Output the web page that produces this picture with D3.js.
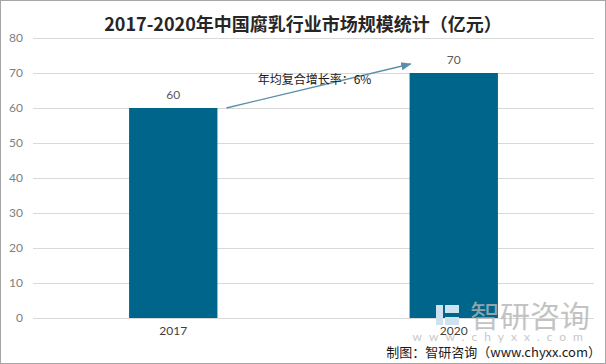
<!DOCTYPE html>
<html>
<head>
<meta charset="utf-8">
<script src="https://cdn.jsdelivr.net/npm/d3@7"></script>
<style>
  body { margin: 0; background: #fff; }
  svg text { font-family: Lato, "Noto Sans CJK SC", sans-serif; }
</style>
</head>
<body>
<div id="chart-area"></div>
<script>
// data
var years = ["2017", "2020"];
var values = [60, 70];
var yTicks = [0, 10, 20, 30, 40, 50, 60, 70, 80];
var title = "2017-2020年中国腐乳行业市场规模统计（亿元）";
var note = "年均复合增长率：6%";
var source = "制图：智研咨询（www.chyxx.com）";

var W = 606, H = 364;
var margin = { left: 33, right: 12, top: 38, bottom: 46 };
var width = W - margin.left - margin.right;
var height = H - margin.top - margin.bottom;

var svg = d3.select("#chart-area").append("svg")
  .attr("width", W)
  .attr("height", H);

// outer border
svg.append("rect")
  .attr("x", 0.5).attr("y", 0.5)
  .attr("width", W - 1).attr("height", H - 1)
  .attr("fill", "#fff")
  .attr("stroke", "#a6a6a6");

// title
svg.append("text")
  .attr("x", W / 2)
  .attr("y", 31)
  .attr("text-anchor", "middle")
  .attr("font-size", "18px")
  .attr("font-weight", "bold")
  .attr("fill", "#262626")
  .style("font-family", "'Noto Sans CJK SC', sans-serif")
  .text(title);

var g = svg.append("g")
  .attr("transform", "translate(" + margin.left + "," + margin.top + ")");

// scales
var x = d3.scaleBand()
  .domain(years)
  .range([0, width])
  .paddingInner(0.685)
  .paddingOuter(0.3425);

var y = d3.scaleLinear()
  .domain([0, 80])
  .range([height, 0]);

// Y axis + grid
var yAxis = g.append("g")
  .call(d3.axisLeft(y).tickValues(yTicks).tickSize(-width).tickPadding(10));
yAxis.select(".domain").remove();
yAxis.selectAll(".tick line").attr("stroke", "#d9d9d9");
yAxis.selectAll(".tick text")
  .attr("fill", "#808080")
  .attr("font-size", "12px");

// watermark
var wm = svg.append("g");
wm.append("rect").attr("x", 436).attr("y", 305).attr("width", 7).attr("height", 20).attr("fill", "#cfe2f0");
wm.append("rect").attr("x", 445).attr("y", 305).attr("width", 14).attr("height", 8).attr("fill", "#cfe2f0");
wm.append("rect").attr("x", 445).attr("y", 317).attr("width", 14).attr("height", 8).attr("fill", "#cfe2f0");
wm.append("text")
  .attr("x", 590).attr("y", 327)
  .attr("text-anchor", "end")
  .attr("font-size", "30px")
  .attr("fill", "#b5b5b5")
  .attr("opacity", 0.8)
  .style("font-family", "'Noto Sans CJK SC', sans-serif")
  .text("智研咨询");
wm.append("text")
  .attr("x", 590).attr("y", 341)
  .attr("text-anchor", "end")
  .attr("font-size", "12px")
  .attr("letter-spacing", "7px")
  .attr("fill", "#c8c8c8")
  .text("www.chyxx.com");

// bars
g.selectAll("rect.bar")
  .data(values)
  .enter()
  .append("rect")
    .attr("class", "bar")
    .attr("x", function(d, i) { return x(years[i]); })
    .attr("y", function(d) { return y(d); })
    .attr("width", x.bandwidth())
    .attr("height", function(d) { return height - y(d); })
    .attr("fill", "#00658a");

// value labels
g.selectAll("text.val")
  .data(values)
  .enter()
  .append("text")
    .attr("class", "val")
    .attr("x", function(d, i) { return x(years[i]) + x.bandwidth() / 2; })
    .attr("y", function(d) { return y(d) - 9; })
    .attr("text-anchor", "middle")
    .attr("font-size", "12px")
    .attr("fill", "#595959")
    .text(function(d) { return d; });

// x labels
g.selectAll("text.xl")
  .data(years)
  .enter()
  .append("text")
    .attr("class", "xl")
    .attr("x", function(d) { return x(d) + x.bandwidth() / 2; })
    .attr("y", height + 17)
    .attr("text-anchor", "middle")
    .attr("font-size", "12px")
    .attr("fill", "#404040")
    .text(function(d) { return d; });

// growth arrow
svg.append("defs").append("marker")
  .attr("id", "arr")
  .attr("viewBox", "0 0 10 10")
  .attr("refX", 9).attr("refY", 5)
  .attr("markerWidth", 8).attr("markerHeight", 8)
  .attr("orient", "auto")
  .append("path")
    .attr("d", "M0,1 L10,5 L0,9 Z")
    .attr("fill", "#5b8fa8");

g.append("line")
  .attr("x1", x(years[0]) + x.bandwidth() + 9)
  .attr("y1", y(values[0]))
  .attr("x2", x(years[1]) + 1)
  .attr("y2", y(values[1]) - 9)
  .attr("stroke", "#5b8fa8")
  .attr("stroke-width", 1.3)
  .attr("marker-end", "url(#arr)");

g.append("text")
  .attr("x", (x(years[0]) + x(years[1]) + x.bandwidth()) / 2 + 1)
  .attr("y", y(values[1]) + 11)
  .attr("text-anchor", "middle")
  .attr("font-size", "12px")
  .attr("fill", "#1a1a1a")
  .style("font-family", "'Noto Sans CJK SC', sans-serif")
  .text(note);

// source
svg.append("text")
  .attr("x", 601)
  .attr("y", 357)
  .attr("text-anchor", "end")
  .attr("font-size", "13px")
  .attr("fill", "#1a1a1a")
  .style("font-family", "'Noto Sans CJK SC', sans-serif")
  .text(source);
</script>
</body>
</html>
